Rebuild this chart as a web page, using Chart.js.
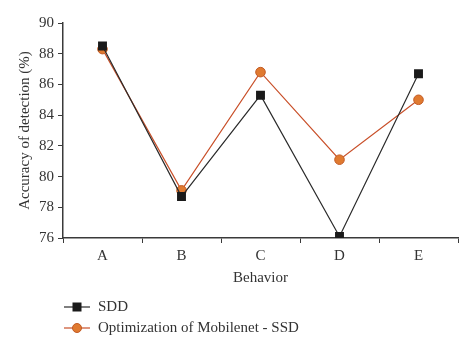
<!DOCTYPE html>
<html>
<head>
<meta charset="utf-8">
<script src="https://cdn.jsdelivr.net/npm/chart.js@4"></script>
<style>
  html, body { margin: 0; padding: 0; background: #fff; }
  #wrap { width: 474px; height: 353px; position: relative; }
</style>
</head>
<body>
<div id="wrap"><canvas id="chart" width="474" height="353"></canvas></div>
<script>
// data
const behaviors = ["A", "B", "C", "D", "E"];
const sddValues = [88.5, 78.7, 85.3, 76.1, 86.7];
const mobilenetValues = [88.3, 79.1, 86.8, 81.1, 85.0];
const yTicks = [76, 78, 80, 82, 84, 86, 88, 90];

const serif = "'Liberation Serif', 'DejaVu Serif', serif";
const axisColor = "#3a3a3a";

// legend drawn as a vertical list under the axis title
const stackedLegend = {
    id: "stackedLegend",
    afterDraw(chart) {
        const ctx = chart.ctx;
        const x0 = 64;
        let y = 307;
        ctx.save();
        chart.data.datasets.forEach((ds) => {
            ctx.strokeStyle = ds.borderColor;
            ctx.lineWidth = 1.2;
            ctx.beginPath();
            ctx.moveTo(x0, y);
            ctx.lineTo(x0 + 26, y);
            ctx.stroke();
            ctx.fillStyle = ds.pointBackgroundColor;
            ctx.strokeStyle = ds.pointBorderColor;
            ctx.lineWidth = 1;
            if (ds.pointStyle == "rect") {
                ctx.fillRect(x0 + 8.5, y - 4.5, 9, 9);
            } else {
                ctx.beginPath();
                ctx.arc(x0 + 13, y, 4.5, 0, Math.PI * 2);
                ctx.fill();
                ctx.stroke();
            }
            ctx.fillStyle = "#333";
            ctx.font = "15px " + serif;
            ctx.textBaseline = "middle";
            ctx.fillText(ds.label, x0 + 34, y);
            y += 21;
        });
        ctx.restore();
    }
};

new Chart(document.getElementById("chart"), {
    type: "line",
    data: {
        labels: behaviors,
        datasets: [
            {
                label: "SDD",
                data: sddValues,
                borderColor: "#2b2b2b",
                borderWidth: 1.2,
                pointStyle: "rect",
                pointRadius: 6.3,
                pointBackgroundColor: "#1a1a1a",
                pointBorderColor: "#1a1a1a",
                pointBorderWidth: 0,
                tension: 0
            },
            {
                label: "Optimization of Mobilenet - SSD",
                data: mobilenetValues,
                borderColor: "#c9502a",
                borderWidth: 1.2,
                pointStyle: "circle",
                pointRadius: 4.8,
                pointBackgroundColor: "#e07a30",
                pointBorderColor: "#c25a24",
                pointBorderWidth: 1,
                tension: 0
            }
        ]
    },
    options: {
        responsive: false,
        animation: false,
        layout: { padding: { top: 23, right: 16, bottom: 62, left: 12 } },
        plugins: {
            legend: { display: false },
            tooltip: { enabled: false }
        },
        scales: {
            x: {
                offset: true,
                grid: {
                    display: true,
                    drawOnChartArea: false,
                    drawTicks: true,
                    tickLength: 5,
                    offset: true,
                    color: axisColor
                },
                border: { color: axisColor, width: 1.5 },
                ticks: { color: "#333", font: { family: serif, size: 15 }, padding: 4 },
                title: {
                    display: true,
                    text: "Behavior",
                    color: "#333",
                    font: { family: serif, size: 15 },
                    padding: { top: 0 }
                }
            },
            y: {
                min: 76,
                max: 90,
                afterBuildTicks(axis) { axis.ticks = yTicks.map(v => ({ value: v })); },
                grid: {
                    display: true,
                    drawOnChartArea: false,
                    drawTicks: true,
                    tickLength: 5,
                    color: axisColor
                },
                border: { color: axisColor, width: 1.5 },
                ticks: { color: "#333", font: { family: serif, size: 15 }, padding: 4 },
                title: {
                    display: true,
                    text: "Accuracy of detection (%)",
                    color: "#333",
                    font: { family: serif, size: 15 },
                    padding: { bottom: 1 }
                }
            }
        }
    },
    plugins: [stackedLegend]
});
</script>
</body>
</html>
